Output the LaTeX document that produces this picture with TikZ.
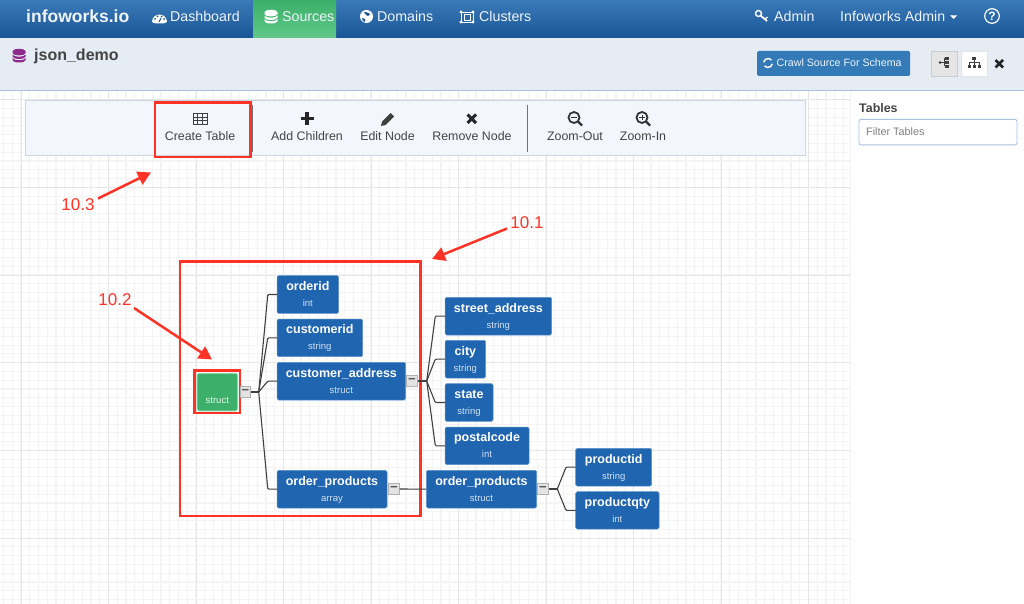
\documentclass[tikz,border=0pt]{standalone}
\usepackage{fontspec}
\setmainfont{Liberation Sans}
\usetikzlibrary{arrows.meta,calc}
\definecolor{nodeblue}{HTML}{1F65B0}
\definecolor{nodeedge}{HTML}{5C93CC}
\definecolor{annored}{HTML}{FF3226}
\definecolor{barTop}{HTML}{3A7AB8}
\definecolor{barBot}{HTML}{1A5596}
\definecolor{tabTop}{HTML}{3BB06A}
\definecolor{tabBot}{HTML}{60C88A}
\definecolor{subhdr}{HTML}{E6ECF4}
\definecolor{hdrline}{HTML}{A9C3DF}
\definecolor{toolbg}{HTML}{F3F6FD}
\definecolor{toolln}{HTML}{CBD5E4}
\definecolor{gridmaj}{HTML}{E7E7E7}
\definecolor{gridmin}{HTML}{F4F4F4}
\definecolor{inktext}{HTML}{444444}
\definecolor{dbpurple}{HTML}{8E2A8B}
\definecolor{btnblue}{HTML}{337AB7}
\definecolor{rootgreen}{HTML}{3CB06A}
\definecolor{subwhite}{HTML}{D4E2F2}
\newcommand\fsz[1]{\fontsize{#1}{#1}\selectfont}
\newcommand\twol[2]{\vbox{\offinterlineskip\halign{\hfil##\hfil\cr
  {\fsz{12.5}\bfseries\rule[-4pt]{0pt}{15pt}#1}\cr
  {\fsz{9.5}\textcolor{subwhite}{\rule[-3pt]{0pt}{15pt}#2}}\cr}}}
\newcommand\bnode[7]{\node[treebox,minimum width={(#4-#2)*1pt},minimum height={(#5-#3)*1pt}] (#1) at ({(#2+#4)/2},{(#3+#5)/2}) {\twol{#6}{#7}};}
\newcommand\dbicon[4]{% x y scale colour
  \begin{scope}[shift={(#1,#2)},x=#3pt,y=-#3pt]
   \fill[#4] (-1,-.75) arc[start angle=180,end angle=360,x radius=1,y radius=.35] -- (1,-.45) arc[start angle=0,end angle=180,x radius=1,y radius=.35] -- cycle;
   \fill[#4] (-1,-.25) arc[start angle=180,end angle=0,x radius=1,y radius=.35] -- (1,.1) arc[start angle=0,end angle=180,x radius=1,y radius=.35] -- cycle;
   \fill[#4] (-1,.3) arc[start angle=180,end angle=0,x radius=1,y radius=.35] -- (1,.65) arc[start angle=0,end angle=180,x radius=1,y radius=.35] -- cycle;
  \end{scope}}
\tikzset{
 x=1pt,y=-1pt,
 treebox/.style={draw=nodeedge,line width=.5pt,fill=nodeblue,rounded corners=1.5pt,inner sep=0pt,outer sep=0pt,text=white,align=center},
 togglebox/.style={draw=black!30,line width=.7pt,fill=black!11,inner sep=0pt,minimum width=11pt,minimum height=11pt,font=\fsz{13}\bfseries,text=black!65},
 treeedge/.style={draw=black!75,line width=1.1pt,rounded corners=1pt},
 redbox/.style={draw=annored,line width=2.4pt},
 redarrow/.style={draw=annored,line width=2.5pt,-{Triangle[length=13pt,width=14pt]}},
 annot/.style={text=annored,font=\fsz{17},inner sep=0pt},
 navtxt/.style={text=white!92!barTop,font=\fsz{14.2},inner sep=0pt,anchor=west},
 tooltxt/.style={text=inktext,font=\fsz{12.4},inner sep=0pt},
}
\begin{document}
\begin{tikzpicture}
\useasboundingbox (0,0) rectangle (1024,604);
\fill[white] (0,0) rectangle (1024,604);
% grid
\foreach \k in {-2,...,95}{\draw[gridmin,line width=1.1pt] ({21+8.75*\k},91) -- ({21+8.75*\k},604);}
\foreach \k in {0,...,58}{\draw[gridmin,line width=1.1pt] (0,{99.6+8.77*\k}) -- (850,{99.6+8.77*\k});}
\foreach \k in {0,...,9}{\draw[gridmaj,line width=1pt] ({21+87.5*\k},91) -- ({21+87.5*\k},604);}
\foreach \k in {0,...,5}{\draw[gridmaj,line width=1pt] (0,{99.6+87.7*\k}) -- (850,{99.6+87.7*\k});}
\draw[gridmin,line width=1.2pt] (850.5,91) -- (850.5,604);
\fill[white] (851,91) rectangle (1024,604);
% top bar
\shade[top color=barTop,bottom color=barBot] (0,0) rectangle (1024,38);
\shade[top color=tabTop,bottom color=tabBot] (253,0) rectangle (336,38);
\fill[subhdr] (0,38) rectangle (1024,90);
\draw[hdrline,line width=1pt] (0,90.3) -- (1024,90.3);
\node[navtxt,font=\fsz{17.5}\bfseries] (brand) at (26,16) {infoworks.io};
\node[navtxt] (dash) at (170,16.5) {Dashboard};
\node[navtxt] (src) at (282,16.5) {Sources};
\node[navtxt] (dom) at (377,16.5) {Domains};
\node[navtxt] (clu) at (479,16.5) {Clusters};
\node[navtxt] (adm) at (774,16.5) {Admin};
\node[navtxt] (iwadm) at (840,16.5) {Infoworks Admin};
\fill[white] (950,15.5) -- (957,15.5) -- (953.5,19) -- cycle;
\draw[white,line width=1.2pt] (992,16) circle (7.3);
\node[text=white,font=\fsz{12}\bfseries,inner sep=0pt] (help) at (992,16) {?};
% nav icons
\fill[white] (152,22) arc[start angle=180,end angle=360,radius=7.5] -- (164,23.3) -- (155,23.3) -- cycle;
\foreach \a/\b in {155/19,157.5/16.5,161.5/16.5,164/19}{\fill[barBot] (\a,\b) circle (1);}
\draw[barBot,line width=1.1pt] (159,22) -- (161,18);
\dbicon{271}{17}{6.5}{white}
\fill[white] (366.5,16.5) circle (6.5);
\fill[barBot] (364,12) .. controls (368,12) and (370,14) .. (370,14) -- (368,16) -- (366,15) -- cycle;
\fill[barBot] (362,18) -- (365,19) -- (365,22) -- (363,21) -- cycle;
\begin{scope}[white,line width=.8pt]
 \draw (461,12) rectangle (473,22);
 \draw (464,14) rectangle (470,20);
 \foreach \a/\b in {461/12,473/12,461/22,473/22}{\fill (\a,\b) circle (1.7);}
\end{scope}
\draw[white,line width=1.4pt] (758.5,13.5) circle (3);
\draw[white,line width=1.8pt] (760.5,15.5) -- (767,21);
\draw[white,line width=1.2pt] (765,19) -- (767.5,17);
% sub header
\dbicon{19}{56}{6.5}{dbpurple}
\node[text=inktext,font=\fsz{16}\bfseries,inner sep=0pt,anchor=west] (json) at (34,56) {json\_demo};
\node[fill=btnblue,rounded corners=1.5pt,minimum width=153pt,minimum height=25pt,inner sep=0pt] (crawlbtn) at (833.5,63.5) {};
\node[text=white!92!btnblue,font=\fsz{10.65},inner sep=0pt,anchor=west] (crawl) at (776.5,63) {Crawl Source For Schema};
\draw[white,line width=1.4pt] (763.6,62.2) arc[start angle=190,end angle=320,radius=4.5];
\draw[white,line width=1.4pt] (772.4,63.8) arc[start angle=10,end angle=140,radius=4.5];
\node[draw=black!20,fill=black!10,minimum width=26pt,minimum height=25pt,inner sep=0pt] (viewa) at (944.5,63.5) {};
\node[draw=black!10,fill=white,minimum width=26pt,minimum height=25pt,inner sep=0pt] (viewb) at (974,63.5) {};
\begin{scope}[black!75]
 \fill (940,62.5) circle (1.5);
 \foreach \y in {58.5,62.5,66.5}{\fill (945,\y-1.2) rectangle (948.5,\y+1.2);}
 \draw[line width=.6pt] (941,62.5) -- (945,62.5) (944,58.5) -- (944,66.5);
 \fill (972.3,57.5) rectangle (975.7,60.5);
 \foreach \x in {969,974,979}{\fill (\x-1.5,65) rectangle (\x+1.5,68);}
 \draw[line width=.6pt] (974,60) -- (974,65) (969,65) -- (969,62.7) -- (979,62.7) -- (979,65);
\end{scope}
\draw[black!85,line width=2.8pt] (995.5,60) -- (1003,67.5) (1003,60) -- (995.5,67.5);
% right panel
\node[text=inktext,font=\fsz{12.4}\bfseries,inner sep=0pt,anchor=west] (tables) at (859,108) {Tables};
\node[draw=hdrline,line width=.9pt,fill=white,rounded corners=2pt,minimum width=158pt,minimum height=25.5pt,inner sep=0pt] (filterbox) at (938,132.2) {};
\node[text=black!50,font=\fsz{10.8},inner sep=0pt,anchor=west] (filter) at (866,132) {Filter Tables};
% toolbar
\node[draw=toolln,line width=1pt,fill=toolbg,minimum width=780pt,minimum height=55.5pt,inner sep=0pt] (toolbar) at (415,128) {};
\draw[black!55,line width=1pt] (252,105) -- (252,152);
\draw[black!55,line width=1pt] (527,105) -- (527,152);
\node[tooltxt] (t1) at (200,136.5) {Create Table};
\node[tooltxt] (t2) at (307,136.5) {Add Children};
\node[tooltxt] (t3) at (387.5,136.5) {Edit Node};
\node[tooltxt] (t4) at (472,136.5) {Remove Node};
\node[tooltxt] (t5) at (575,136.5) {Zoom-Out};
\node[tooltxt] (t6) at (643,136.5) {Zoom-In};
% toolbar icons
\begin{scope}[black!75,line width=.9pt]
 \draw (193,113.5) rectangle (207,124.5);
 \draw (193,117) -- (207,117) (193,120.7) -- (207,120.7) (197.7,113.5) -- (197.7,124.5) (202.3,113.5) -- (202.3,124.5);
\end{scope}
\draw[black!85,line width=3.2pt] (300.5,118.5) -- (313.5,118.5) (307,112) -- (307,125);
\fill[black!75] (381,126) -- (382,121.5) -- (390.5,113) -- (394,116.5) -- (385.5,125) -- cycle;
\draw[black!85,line width=3pt] (467.5,114.5) -- (476,123) (476,114.5) -- (467.5,123);
\draw[black!80,line width=1.8pt] (574,117.5) circle (5.5);
\draw[black!80,line width=2.4pt] (578,121.5) -- (582,125.5);
\draw[black!80,line width=1.3pt] (571.3,117.5) -- (576.7,117.5);
\draw[black!80,line width=1.8pt] (642,117.5) circle (5.5);
\draw[black!80,line width=2.4pt] (646,121.5) -- (650,125.5);
\draw[black!80,line width=1pt] (639.3,117.5) -- (644.7,117.5) (642,114.8) -- (642,120.2);
% red boxes
\draw[redbox] (155,102.5) rectangle (250.5,157);
\draw[redbox] (180,261.5) rectangle (420.5,516);
% tree nodes
\node[treebox,draw=white!70!rootgreen,line width=1pt,fill=rootgreen,minimum width=41pt,minimum height=38pt] (root) at (217.3,392) {};
\node[text=white!88!rootgreen,font=\fsz{9.5},inner sep=0pt] (rootlbl) at (217.3,400.3) {struct};
\draw[redbox] (194.5,370.5) rectangle (240,413);
\bnode{orderid}{277}{275.7}{338.7}{313.3}{orderid}{int}
\bnode{customerid}{277}{319}{362.7}{356.7}{customerid}{string}
\bnode{custaddr}{277}{362.3}{405.7}{400}{customer\_address}{struct}
\bnode{orderprod}{277}{470.3}{387}{508}{order\_products}{array}
\bnode{street}{445}{297.3}{551.7}{335}{street\_address}{string}
\bnode{city}{445}{340.3}{485.7}{378}{city}{string}
\bnode{state}{445}{383.7}{493}{421.3}{state}{string}
\bnode{postal}{445}{427}{529}{464.7}{postalcode}{int}
\bnode{orderprodb}{426.3}{470.3}{536.7}{508}{order\_products}{struct}
\bnode{productid}{575.7}{448.3}{651.7}{486}{productid}{string}
\bnode{productqty}{575.7}{491.7}{659}{529}{productqty}{int}
\node[togglebox,minimum width=9.5pt] (tga) at (245.5,392) {\raisebox{-1.2pt}{−}};
\node[togglebox] (tgb) at (412,381) {\raisebox{-1.2pt}{−}};
\node[togglebox] (tgc) at (393.8,489) {\raisebox{-1.2pt}{−}};
\node[togglebox] (tgd) at (543,489) {\raisebox{-1.2pt}{−}};
\coordinate (ja) at (258.7,392);
\coordinate (jb) at (426.7,381);
\coordinate (jd) at (557.3,489);
% connectors
\draw[treeedge] (tga.east) -- (ja);
\foreach \n in {orderid,customerid,custaddr,orderprod}{\draw[treeedge] (ja) -- ($(\n.west)+(-9.2,0)$) -- (\n.west);}
\draw[treeedge] (tgb.east) -- (jb);
\foreach \n in {street,city,state,postal}{\draw[treeedge] (jb) -- ($(\n.west)+(-9.7,0)$) -- (\n.west);}
\draw[treeedge] (tgc.east) -- (orderprodb.west);
\draw[treeedge] (tgd.east) -- (jd);
\foreach \n in {productid,productqty}{\draw[treeedge] (jd) -- ($(\n.west)+(-9.7,0)$) -- (\n.west);}
% annotations
\node[annot] (la) at (527,223) {10.1};
\node[annot] (lb) at (115,300) {10.2};
\node[annot] (lc) at (78,205) {10.3};
\coordinate (aas) at (507,228.5); \coordinate (aae) at (432,259);
\coordinate (abs) at (134,308); \coordinate (abe) at (212,359.5);
\coordinate (acs) at (98,198.5); \coordinate (ace) at (151,172.5);
\draw[redarrow] (aas) -- (aae);
\draw[redarrow] (abs) -- (abe);
\draw[redarrow] (acs) -- (ace);
\end{tikzpicture}
\end{document}
